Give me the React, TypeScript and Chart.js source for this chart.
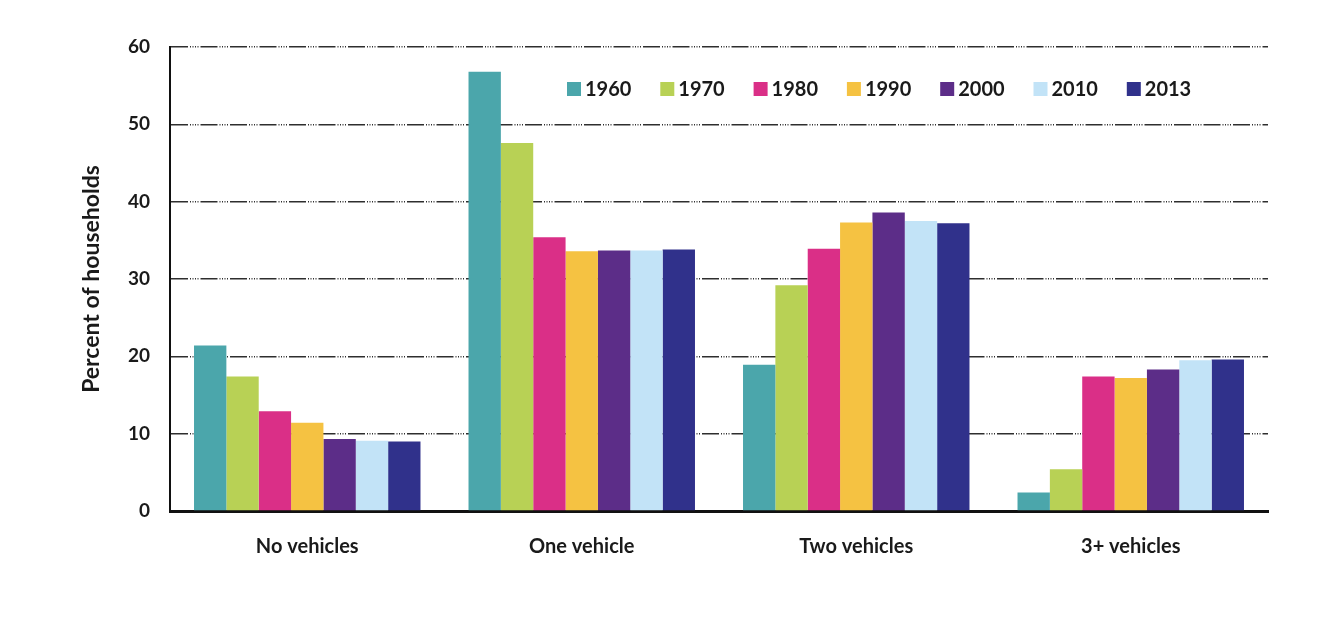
import React, { useEffect, useRef } from "react";
import { Chart, registerables } from "chart.js";

Chart.register(...registerables);

const categories = ["No vehicles", "One vehicle", "Two vehicles", "3+ vehicles"];
const years = ["1960", "1970", "1980", "1990", "2000", "2010", "2013"];

const values1960 = [21.4, 56.8, 18.9, 2.4];
const values1970 = [17.4, 47.6, 29.2, 5.4];
const values1980 = [12.9, 35.4, 33.9, 17.4];
const values1990 = [11.4, 33.6, 37.3, 17.2];
const values2000 = [9.3, 33.7, 38.6, 18.3];
const values2010 = [9.1, 33.7, 37.5, 19.5];
const values2013 = [9.0, 33.8, 37.2, 19.6];

const seriesValues = [values1960, values1970, values1980, values1990, values2000, values2010, values2013];
const seriesColors = ["#4ba6ab", "#b8d155", "#da2f87", "#f5c242", "#5c2d88", "#c2e3f7", "#30318b"];

const yTicks = [0, 10, 20, 30, 40, 50, 60];

const FONT = "Lato, 'Open Sans', sans-serif";

// Legend drawn inside the plot area as a single row of swatches
const inlineLegend = {
  id: "inlineLegend",
  afterDraw(chart: any) {
    const { ctx } = chart;
    const startX = 567;
    const step = 93.3;
    const boxY = 82;
    const box = 14;
    ctx.save();
    ctx.font = `bold 20px ${FONT}`;
    ctx.textBaseline = "middle";
    ctx.textAlign = "left";
    chart.data.datasets.forEach((ds: any, i: number) => {
      const x = startX + i * step;
      ctx.fillStyle = ds.backgroundColor;
      ctx.fillRect(x, boxY, box, box);
      ctx.fillStyle = "#1a1a1a";
      ctx.fillText(ds.label, x + 18, boxY + box / 2 + 0.5);
    });
    ctx.restore();
  },
};

export default function App() {
  const canvasRef = useRef<HTMLCanvasElement | null>(null);

  useEffect(() => {
    if (!canvasRef.current) return;
    const chart = new Chart(canvasRef.current, {
      type: "bar",
      data: {
        labels: categories,
        datasets: years.map((y, i) => ({
          label: y,
          data: seriesValues[i],
          backgroundColor: seriesColors[i],
          borderWidth: 0,
          categoryPercentage: 0.825,
          barPercentage: 1,
        })),
      },
      options: {
        responsive: false,
        animation: false,
        devicePixelRatio: 1,
        layout: { padding: { top: 47, right: 76, left: 0, bottom: 0 } },
        plugins: {
          legend: { display: false },
          tooltip: { enabled: false },
        },
        scales: {
          x: {
            grid: { display: false, drawTicks: false },
            border: { display: true, color: "#111", width: 3 },
            ticks: {
              color: "#1a1a1a",
              font: { family: FONT, size: 20, weight: "bold" },
              padding: 24,
            },
            afterFit: (s: any) => {
              s.height = 109;
            },
          },
          y: {
            min: 0,
            max: 60,
            afterBuildTicks: (s: any) => {
              s.ticks = yTicks.map((v) => ({ value: v }));
            },
            grid: {
              color: "#2e2e2e",
              lineWidth: 1.5,
              drawTicks: false,
            },
            border: {
              display: true,
              color: "#111",
              width: 2,
              dash: [17, 2, 1, 1.5, 1, 1.5, 1, 1.5, 1, 2],
            },
            ticks: {
              color: "#1a1a1a",
              font: { family: FONT, size: 19, weight: "bold" },
              padding: 20,
            },
            title: {
              display: true,
              text: "Percent of households",
              color: "#1a1a1a",
              font: { family: FONT, size: 23, weight: "bold" },
              padding: { top: 78, bottom: 0 },
            },
            afterFit: (s: any) => {
              s.width = 170;
            },
          },
        },
      },
      plugins: [inlineLegend],
    });
    return () => chart.destroy();
  }, []);

  return (
    <div style={{ position: "fixed", left: 0, top: 0, width: 1344, height: 620, background: "#fff" }}>
      <canvas ref={canvasRef} width={1344} height={620} style={{ width: 1344, height: 620 }} />
    </div>
  );
}
